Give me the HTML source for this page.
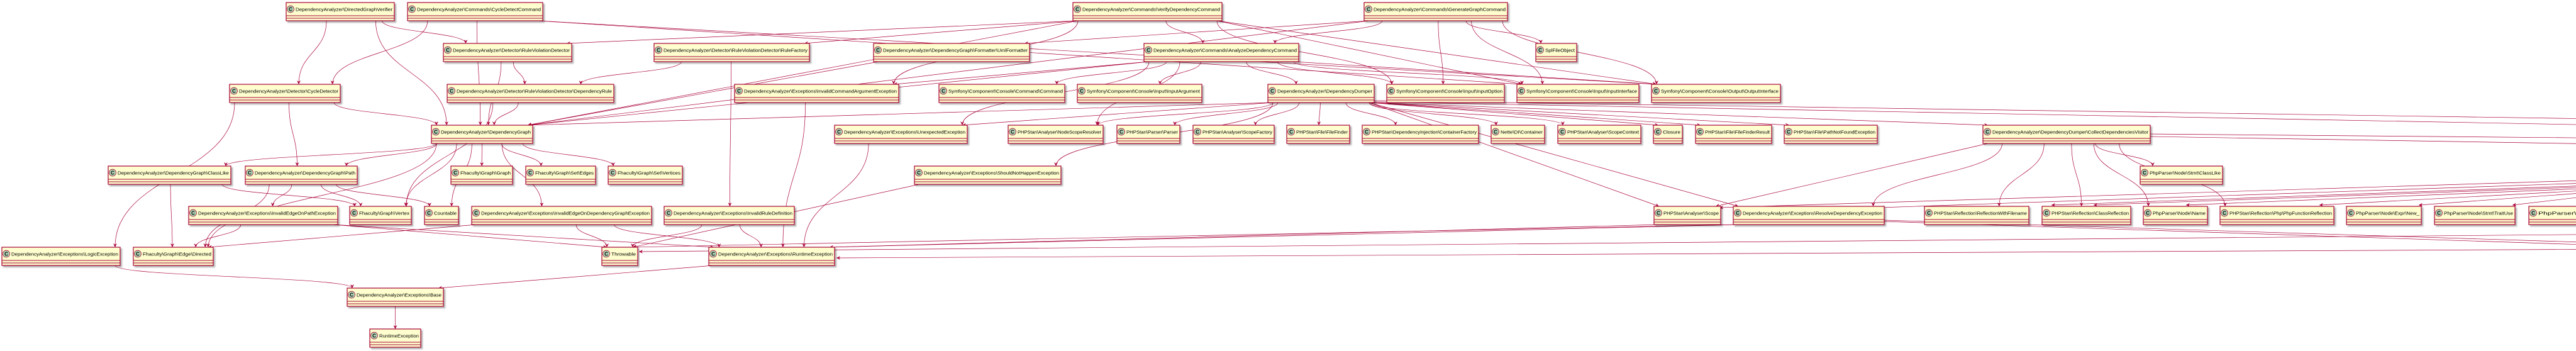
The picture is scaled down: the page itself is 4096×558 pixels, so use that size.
<!DOCTYPE html>
<html><head><meta charset="utf-8"><style>
html,body{margin:0;padding:0;background:#fff;width:4096px;height:558px;overflow:hidden}
svg{display:block}
</style></head><body>
<svg id="s" xmlns="http://www.w3.org/2000/svg" width="4096" height="558" viewBox="0 0 4096 558">
<defs>
<marker id="a" markerWidth="8" markerHeight="8" refX="6" refY="3" orient="auto" markerUnits="userSpaceOnUse">
<path d="M0,0 L6,3 L0,6 L2,3 Z" fill="#A80036"/>
</marker>
<filter id="sh" x="-5%" y="-20%" width="110%" height="150%"><feDropShadow dx="2.5" dy="2.5" stdDeviation="1" flood-color="#000" flood-opacity="0.3"/></filter>
</defs>
<g id="e" fill="none" stroke="#A80036" stroke-width="0.7"></g>
<g id="n"></g>
</svg>
<script>
var R=[4,69,134,199,264,328,393,458,523],H=29;
var N={
DGV:[455,627,0,"DependencyAnalyzer\\DirectedGraphVerifier"],
CDC:[648,863,0,"DependencyAnalyzer\\Commands\\CycleDetectCommand"],
VDC:[1706,1943,0,"DependencyAnalyzer\\Commands\\VerifyDependencyCommand"],
GGC:[2169,2397,0,"DependencyAnalyzer\\Commands\\GenerateGraphCommand"],
RVD:[705,909,1,"DependencyAnalyzer\\Detector\\RuleViolationDetector"],
RF:[1040,1287,1,"DependencyAnalyzer\\Detector\\RuleViolationDetector\\RuleFactory"],
UML:[1389,1637,1,"DependencyAnalyzer\\DependencyGraph\\Formatter\\UmlFormatter"],
ADC:[1819,2065,1,"DependencyAnalyzer\\Commands\\AnalyzeDependencyCommand"],
SPL:[2442,2507,1,"SplFileObject"],
CD:[365,541,2,"DependencyAnalyzer\\Detector\\CycleDetector"],
DR:[711,976,2,"DependencyAnalyzer\\Detector\\RuleViolationDetector\\DependencyRule"],
ICA:[1168,1429,2,"DependencyAnalyzer\\Exceptions\\InvalidCommandArgumentException"],
SCM:[1493,1693,2,"Symfony\\Component\\Console\\Command\\Command"],
IA:[1713,1911,2,"Symfony\\Component\\Console\\Input\\InputArgument"],
DD:[2016,2185,2,"DependencyAnalyzer\\DependencyDumper"],
IO:[2205,2392,2,"Symfony\\Component\\Console\\Input\\InputOption"],
II:[2412,2606,2,"Symfony\\Component\\Console\\Input\\InputInterface"],
OI:[2626,2831,2,"Symfony\\Component\\Console\\Output\\OutputInterface"],
DG:[686,847,3,"DependencyAnalyzer\\DependencyGraph"],
UE:[1327,1538,3,"DependencyAnalyzer\\Exceptions\\UnexpectedException"],
NSR:[1603,1754,3,"PHPStan\\Analyser\\NodeScopeResolver"],
PP:[1776,1876,3,"PHPStan\\Parser\\Parser"],
SF:[1897,2026,3,"PHPStan\\Analyser\\ScopeFactory"],
FF:[2046,2146,3,"PHPStan\\File\\FileFinder"],
CF:[2166,2351,3,"PHPStan\\DependencyInjection\\ContainerFactory"],
NC:[2371,2456,3,"Nette\\DI\\Container"],
SC:[2477,2609,3,"PHPStan\\Analyser\\ScopeContext"],
CL:[2629,2675,3,"Closure"],
FFR:[2696,2817,3,"PHPStan\\File\\FileFinderResult"],
PNF:[2837,2985,3,"PHPStan\\File\\PathNotFoundException"],
CDV:[3153,3419,3,"DependencyAnalyzer\\DependencyDumper\\CollectDependenciesVisitor"],
CLK:[172,367,4,"DependencyAnalyzer\\DependencyGraph\\ClassLike"],
PATH:[390,568,4,"DependencyAnalyzer\\DependencyGraph\\Path"],
GG:[717,815,4,"Fhaculty\\Graph\\Graph"],
ED:[836,947,4,"Fhaculty\\Graph\\Set\\Edges"],
VS:[967,1085,4,"Fhaculty\\Graph\\Set\\Vertices"],
SNH:[1454,1687,4,"DependencyAnalyzer\\Exceptions\\ShouldNotHappenException"],
SCL:[3403,3534,4,"PhpParser\\Node\\Stmt\\ClassLike"],
IEP:[300,537,5,"DependencyAnalyzer\\Exceptions\\InvalidEdgeOnPathException"],
VX:[556,654,5,"Fhaculty\\Graph\\Vertex"],
CNT:[675,729,5,"Countable"],
IEDG:[750,1036,5,"DependencyAnalyzer\\Exceptions\\InvalidEdgeOnDependencyGraphException"],
IRD:[1056,1263,5,"DependencyAnalyzer\\Exceptions\\InvalidRuleDefinition"],
SCP:[2630,2736,5,"PHPStan\\Analyser\\Scope"],
RDE:[2756,2996,5,"DependencyAnalyzer\\Exceptions\\ResolveDependencyException"],
RWF:[3060,3226,5,"PHPStan\\Reflection\\ReflectionWithFilename"],
CR:[3247,3388,5,"PHPStan\\Reflection\\ClassReflection"],
NM:[3408,3510,5,"PhpParser\\Node\\Name"],
PFR:[3530,3711,5,"PHPStan\\Reflection\\Php\\PhpFunctionReflection"],
NEW:[3731,3850,5,"PhpParser\\Node\\Expr\\New_"],
TU:[3871,3999,5,"PhpParser\\Node\\Stmt\\TraitUse"],
PN:[4021,4230,5,"PhpParser\\Node\\Stmt\\ClassMethod"],
LE:[3,191,6,"DependencyAnalyzer\\Exceptions\\LogicException"],
DIR:[212,339,6,"Fhaculty\\Graph\\Edge\\Directed"],
THR:[957,1014,6,"Throwable"],
RTE:[1127,1327,6,"DependencyAnalyzer\\Exceptions\\RuntimeException"],
BASE:[552,705,7,"DependencyAnalyzer\\Exceptions\\Base"],
RT:[588,669,8,"RuntimeException"]
};
var E=[
"DGV CD","DGV DG","DGV RVD","CDC CD","CDC DG","CDC OI","CDC II",
"VDC RVD","VDC RF","VDC DG","VDC ADC","VDC IO","VDC II","VDC OI","VDC ICA",
"GGC UML","GGC ADC","GGC SPL","GGC IO","GGC II","GGC OI","GGC DG",
"RVD DR","RVD DG","RF DR","RF IRD","UML DG","DR DG","DR VX","ICA RTE",
"ADC ICA","ADC SCM","ADC IA","ADC DD","ADC IO","ADC II","ADC OI","ADC DG","ADC UE","ADC NSR",
"CD LE","CD PATH","CD DG",
"DG CLK","DG PATH","DG GG","DG ED","DG VS","DG VX","DG CNT","DG DIR","DG IEDG",
"DD UE","DD NSR","DD PP","DD SF","DD FF","DD CF","DD NC","DD SC","DD CL","DD FFR","DD PNF","DD CDV","DD DG","DD SNH","DD SCP","DD RDE",
"UE RTE","CLK DIR","CLK VX","PATH IEP","PATH VX","PATH CNT","PATH DIR",
"IEP DIR","IEP THR","IEP RTE","IEDG DIR","IEDG THR","IEDG RTE","IRD THR","IRD RTE",
"SNH THR","LE BASE","RTE BASE","BASE RT",
"CDV RDE","CDV RWF","CDV CR","CDV NM","CDV PFR","CDV SCL","CDV SCP",
"RDE RTE","RDE THR","SCP RTE"
];
var ns="http://www.w3.org/2000/svg",eg=document.getElementById("e"),ng=document.getElementById("n");
function el(t,a,p){var e=document.createElementNS(ns,t);for(var k in a)e.setAttribute(k,a[k]);p.appendChild(e);return e;}
function cl(v,a,b){return Math.max(a,Math.min(b,v));}
E.forEach(function(s){
 var p=s.split(" "),A=N[p[0]],B=N[p[1]];
 var ac=(A[0]+A[1])/2,bc=(B[0]+B[1])/2,x1,y1,x2,y2;
 if(B[2]>A[2]){
  x1=cl(ac+(bc-ac)*0.25,A[0]+8,A[1]-8);y1=R[A[2]]+H;
  x2=cl(bc+(ac-bc)*0.25,B[0]+8,B[1]-8);y2=R[B[2]];
 }else if(B[2]<A[2]){
  x1=cl(ac+(bc-ac)*0.25,A[0]+8,A[1]-8);y1=R[A[2]];
  x2=cl(bc+(ac-bc)*0.25,B[0]+8,B[1]-8);y2=R[B[2]]+H;
 }else{
  if(bc>ac){x1=A[1];x2=B[0];}else{x1=A[0];x2=B[1];}
  y1=R[A[2]]+14;y2=R[B[2]]+14;
 }
 var my=(y1+y2)/2;
 var d="M"+x1+","+y1+" C"+x1+","+(my)+" "+x2+","+(my)+" "+x2+","+y2;
 if(Math.abs(x2-x1)>400) d="M"+x1+","+y1+" L"+x2+","+y2;
 el("path",{d:d,"marker-end":"url(#a)"},eg);
});
/* lines from off-canvas nodes on the right */
var X=[
"M4200,292 L3262,326","M4200,294 L3329,326","M4200,296 L3476,326","M4200,298 L3688,326",
"M4200,300 L3846,326","M4200,302 L3995,326","M4200,288 L2990,330","M4200,284 L2734,330",
"M4200,304 L4096,326",
"M3419,213 L4200,220","M3419,217 L4200,230",
"M2185,160 L4200,190","M2185,162 L4200,200",
"M2996,350 L4200,388","M2996,352 L4200,392","M4200,396 L1330,410","M4200,372 L1016,400"
];
X.forEach(function(d){el("path",{d:d,"marker-end":"url(#a)"},eg);});
for(var k in N){
 var n=N[k],x=n[0],w=n[1]-n[0],y=R[n[2]];
 var g=el("g",{},ng);
 el("rect",{x:x,y:y,width:w,height:H,fill:"#FEFECE",stroke:"#A80036","stroke-width":"1.2",filter:"url(#sh)"},g);
 el("line",{x1:x,y1:y+21,x2:x+w,y2:y+21,stroke:"#A80036","stroke-width":"1"},g);
 el("line",{x1:x,y1:y+25,x2:x+w,y2:y+25,stroke:"#A80036","stroke-width":"1"},g);
 el("circle",{cx:x+7,cy:y+10.5,r:5.5,fill:"#ADD1B2",stroke:"#A80036","stroke-width":"0.7"},g);
 var c=el("text",{x:x+7,y:y+13.3,"font-family":"Liberation Sans, sans-serif","font-size":"8","font-weight":"bold","text-anchor":"middle",fill:"#000"},g);c.textContent="C";
 var t=el("text",{x:x+15,y:y+13.5,"font-family":"Liberation Sans, sans-serif","font-size":"7.3",fill:"#000",textLength:Math.max(10,w-18),lengthAdjust:"spacingAndGlyphs"},g);
 t.textContent=n[3];
}
</script>
</body></html>
